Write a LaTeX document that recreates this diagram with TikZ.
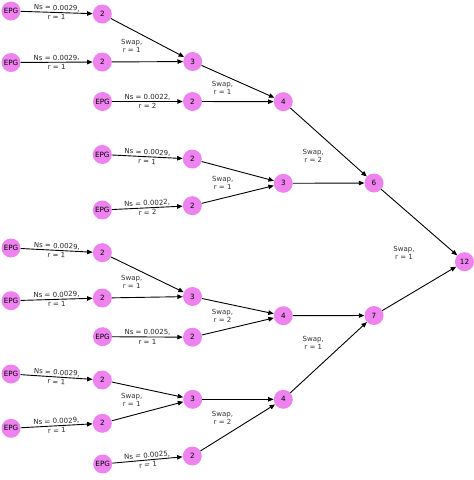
\documentclass[tikz,border=0pt]{standalone}
\usepackage{fontspec}
\setmainfont{DejaVu Sans}
\usetikzlibrary{arrows.meta}
\definecolor{vio}{HTML}{EE82EE}
\begin{document}
\begin{tikzpicture}[x=1pt,y=-1pt,
 nd/.style={circle,fill=vio,minimum size=19pt,inner sep=0pt,font=\fontsize{7.2}{8}\selectfont,text=black},
 ed/.style={-{Triangle[length=5.5pt,width=4.5pt]},line width=0.9pt},
 el/.style={font=\fontsize{7}{9.5}\selectfont,align=center,inner sep=0pt,sloped,midway,text=black!85},
 sw/.style={font=\fontsize{7}{8}\selectfont,align=center,inner sep=0pt,text=black!80}]
\useasboundingbox (0,0) rectangle (474,480);
% group A
\node[nd] (a1e) at (11,11) {EPG};
\node[nd] (a1) at (102.3,14) {2};
\node[nd] (a2e) at (11,62.5) {EPG};
\node[nd] (a2) at (102.3,62) {2};
\node[nd] (a3e) at (102.5,101.5) {EPG};
\node[nd] (a3) at (192.5,101.5) {2};
\node[nd] (a3n) at (192.7,61.5) {3};
\node[nd] (a4) at (283.3,101.7) {4};
% group B
\node[nd] (b1e) at (102.3,154.5) {EPG};
\node[nd] (b1) at (192.3,159) {2};
\node[nd] (b2e) at (102.3,210) {EPG};
\node[nd] (b2) at (192.3,205.7) {2};
\node[nd] (b3) at (283.3,183.3) {3};
\node[nd] (b6) at (374,183) {6};
% group C
\node[nd] (c1e) at (11,248) {EPG};
\node[nd] (c1) at (102.3,252.7) {2};
\node[nd] (c2e) at (11,300.7) {EPG};
\node[nd] (c2) at (102.3,298) {2};
\node[nd] (c3n) at (192.5,296.5) {3};
\node[nd] (c3e) at (102.5,336.7) {EPG};
\node[nd] (c3) at (192.5,337.2) {2};
\node[nd] (c4) at (283.3,315.7) {4};
\node[nd] (c7) at (374,315.5) {7};
% group D
\node[nd] (d1e) at (11,374) {EPG};
\node[nd] (d1) at (102.3,380) {2};
\node[nd] (d2e) at (11,428.3) {EPG};
\node[nd] (d2) at (102.3,423.3) {2};
\node[nd] (d3n) at (192.7,399.3) {3};
\node[nd] (d3e) at (102.7,464) {EPG};
\node[nd] (d3) at (192.3,456) {2};
\node[nd] (d4) at (283.3,399.3) {4};
\node[nd] (t12) at (464.5,261.7) {12};
% EPG edges
\draw[ed] (a1e) -- node[el]{Ns = 0.0029,\\r = 1} (a1);
\draw[ed] (a2e) -- node[el]{Ns = 0.0029,\\r = 1} (a2);
\draw[ed] (a3e) -- node[el]{Ns = 0.0022,\\r = 2} (a3);
\draw[ed] (b1e) -- node[el]{Ns = 0.0029,\\r = 1} (b1);
\draw[ed] (b2e) -- node[el]{Ns = 0.0022,\\r = 2} (b2);
\draw[ed] (c1e) -- node[el]{Ns = 0.0029,\\r = 1} (c1);
\draw[ed] (c2e) -- node[el]{Ns = 0.0029,\\r = 1} (c2);
\draw[ed] (c3e) -- node[el]{Ns = 0.0025,\\r = 1} (c3);
\draw[ed] (d1e) -- node[el]{Ns = 0.0029,\\r = 1} (d1);
\draw[ed] (d2e) -- node[el]{Ns = 0.0029,\\r = 1} (d2);
\draw[ed] (d3e) -- node[el]{Ns = 0.0025,\\r = 1} (d3);
% swap edges
\draw[ed] (a1) -- (a3n);
\draw[ed] (a2) -- (a3n);
\draw[ed] (a3n) -- (a4);
\draw[ed] (a3) -- (a4);
\draw[ed] (a4) -- (b6);
\draw[ed] (b1) -- (b3);
\draw[ed] (b2) -- (b3);
\draw[ed] (b3) -- (b6);
\draw[ed] (b6) -- (t12);
\draw[ed] (c1) -- (c3n);
\draw[ed] (c2) -- (c3n);
\draw[ed] (c3n) -- (c4);
\draw[ed] (c3) -- (c4);
\draw[ed] (c4) -- (c7);
\draw[ed] (d1) -- (d3n);
\draw[ed] (d2) -- (d3n);
\draw[ed] (d3n) -- (d4);
\draw[ed] (d3) -- (d4);
\draw[ed] (d4) -- (c7);
\draw[ed] (c7) -- (t12);
% swap labels
\node[sw] (s1) at (131.7,45.5) {Swap,\\r = 1};
\node[sw] (s2) at (222.5,88) {Swap,\\r = 1};
\node[sw] (s3) at (313.3,155.5) {Swap,\\r = 2};
\node[sw] (s4) at (222.7,183) {Swap,\\r = 1};
\node[sw] (s5) at (404,253) {Swap,\\r = 1};
\node[sw] (s6) at (131.7,281.8) {Swap,\\r = 1};
\node[sw] (s7) at (222.5,316) {Swap,\\r = 2};
\node[sw] (s8) at (313.3,343) {Swap,\\r = 1};
\node[sw] (s9) at (131.7,400.3) {Swap,\\r = 1};
\node[sw] (s10) at (222.5,417.5) {Swap,\\r = 2};
\end{tikzpicture}
\end{document}
